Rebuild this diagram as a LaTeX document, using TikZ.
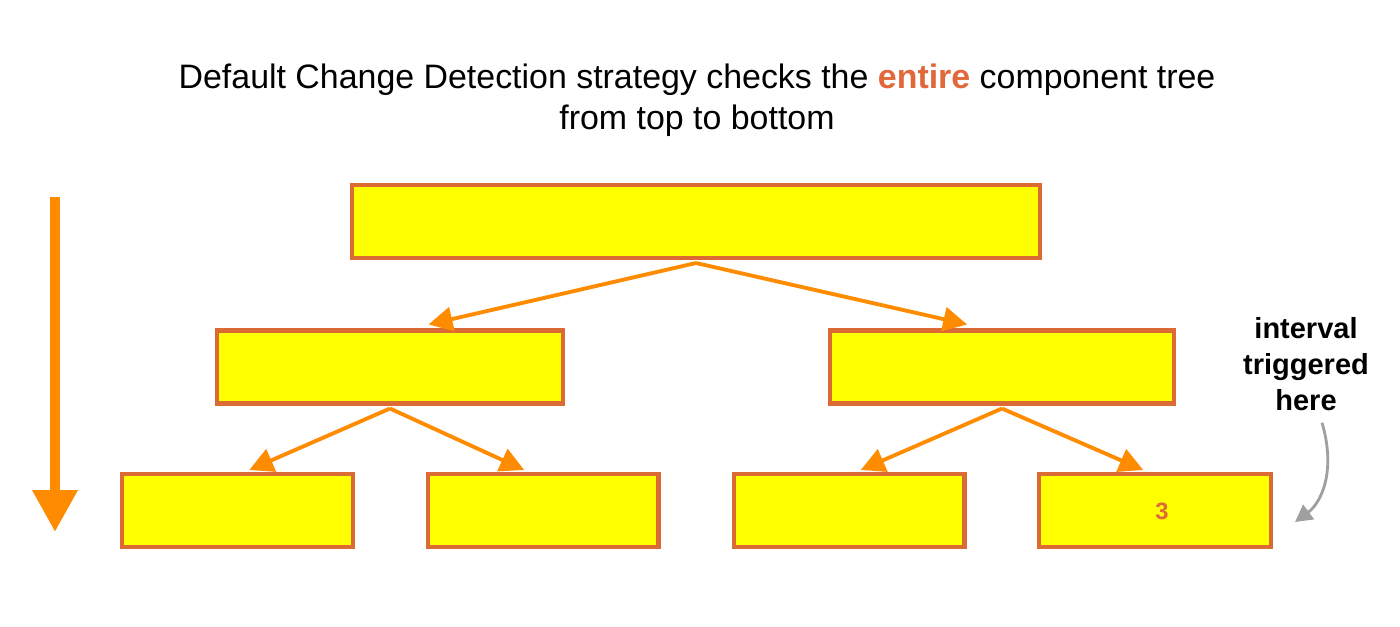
\documentclass[tikz,border=0pt]{standalone}
\usepackage{fontspec}
\setmainfont{Liberation Sans}
\usepackage{tikz}
\usetikzlibrary{arrows.meta,calc}
\definecolor{boxline}{HTML}{DC6A35}
\definecolor{boxfill}{HTML}{FFFF00}
\definecolor{linkcol}{HTML}{FF8C00}
\definecolor{marker}{HTML}{E0683A}

\begin{document}
\begin{tikzpicture}[x=0.02cm,y=-0.02cm,
  box/.style={draw=boxline,fill=boxfill,line width=2.3pt,minimum height=1.46cm,inner sep=0pt},
  link/.style={draw=linkcol,line width=2.2pt,-{Triangle[length=4.8mm,width=4.8mm]}}]

\useasboundingbox (0,0) rectangle (1400,626);

\node[box,minimum width=13.78cm] (root) at (696,221.5) {};
\node[box,minimum width=6.92cm] (l) at (390,367) {};
\node[box,minimum width=6.88cm] (r) at (1002,367) {};
\node[box,minimum width=4.62cm] (ll) at (237.5,510.5) {};
\node[box,minimum width=4.62cm] (lr) at (543,510.5) {};
\node[box,minimum width=4.62cm] (rl) at (849,510.5) {};
\node[box,minimum width=4.64cm] (rr) at (1155,510.5) {};
\node[font=\bfseries\fontsize{13.5}{16}\selectfont,text=marker] (num) at ($(rr.center)+(7,1)$) {3};

\draw[link] ($(root.south)+(0,3)$) -- ($(l.north west)!0.61!(l.north east)+(0,-4)$);
\draw[link] ($(root.south)+(0,3)$) -- ($(r.north west)!0.40!(r.north east)+(0,-4)$);
\draw[link] ($(l.south)+(0,3)$) -- ($(ll.north west)!0.55!(ll.north east)+(0,-2)$);
\draw[link] ($(l.south)+(0,3)$) -- ($(lr.north west)!0.42!(lr.north east)+(0,-2)$);
\draw[link] ($(r.south)+(0,3)$) -- ($(rl.north west)!0.55!(rl.north east)+(0,-2)$);
\draw[link] ($(r.south)+(0,3)$) -- ($(rr.north west)!0.45!(rr.north east)+(0,-2)$);

\coordinate (top) at (55,197);
\coordinate (bottom) at (55,532);
\draw[draw=linkcol,line width=5.8pt,-{Triangle[length=8.4mm,width=8.6mm]}] (top) -- (bottom);

\node[align=center,font=\fontsize{19.3}{23.5}\selectfont] (title) at (697,100)
  {Default Change Detection strategy checks the {\bfseries\color{marker}entire} component tree\\from top to bottom};

\node[align=center,font=\bfseries\fontsize{16.5}{20.4}\selectfont] (note) at (1306,364)
  {interval\\triggered\\here};

\coordinate (hint) at (1295,522);
\draw[draw=gray!75,line width=1.6pt,-{Triangle[length=3.4mm,width=3.6mm]}]
  ($(note.south)+(16,6)$) .. controls (1336,470) and (1322,502) .. (hint);
\end{tikzpicture}
\end{document}
